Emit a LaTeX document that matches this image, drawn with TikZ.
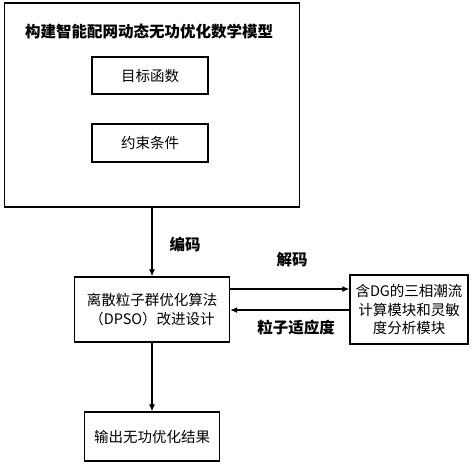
\documentclass[tikz,border=0pt]{standalone}
\usepackage{fontspec}
\newfontfamily\cjk{Noto Sans CJK SC}
\usetikzlibrary{arrows.meta,calc}
\tikzset{
  box/.style={draw=black, line width=1.4pt, inner sep=0pt, align=center,
    font=\cjk\fontsize{14.5}{18.5}\selectfont},
  lbl/.style={inner sep=0pt, font=\cjk\bfseries\fontsize{15.5}{18}\selectfont},
  arr/.style={line width=1.2pt, -{Latex[length=7pt,width=6pt]}}
}
\begin{document}
\begin{tikzpicture}[x=1pt,y=-1pt]
\useasboundingbox (0,0) rectangle (474,467);
\node[box, line width=1.8pt, minimum width=295pt, minimum height=204pt] (big) at (152,105) {};
\node[lbl] (title) at (149,32) {构建智能配网动态无功优化数学模型};
\node[box, minimum width=116pt, minimum height=37pt] (obj) at (150,75.5) {目标函数};
\node[box, minimum width=116pt, minimum height=38pt] (con) at (150,143) {约束条件};
\node[box, minimum width=155pt, minimum height=65pt] (dpso) at (152,309.5) {离散粒子群优化算法\\（DPSO）改进设计};
\node[box, minimum width=118pt, minimum height=69pt] (right) at (409,309.5) {含DG的三相潮流\\计算模块和灵敏\\度分析模块};
\node[box, minimum width=135pt, minimum height=49pt] (out) at (152,436.5) {输出无功优化结果};
\node[lbl] (enc) at (185,245) {编码};
\node[lbl] (dec) at (292,260) {解码};
\node[lbl] (fit) at (296,328) {粒子适应度};
\draw[arr] (big.south) -- (dpso.north);
\draw[arr] ($(dpso.east)+(0,-20.5)$) -- ($(right.west)+(0,-20.5)$);
\draw[arr] ($(right.west)+(0,0.5)$) -- ($(dpso.east)+(0,0.5)$);
\draw[arr] (dpso.south) -- (out.north);
\end{tikzpicture}
\end{document}
